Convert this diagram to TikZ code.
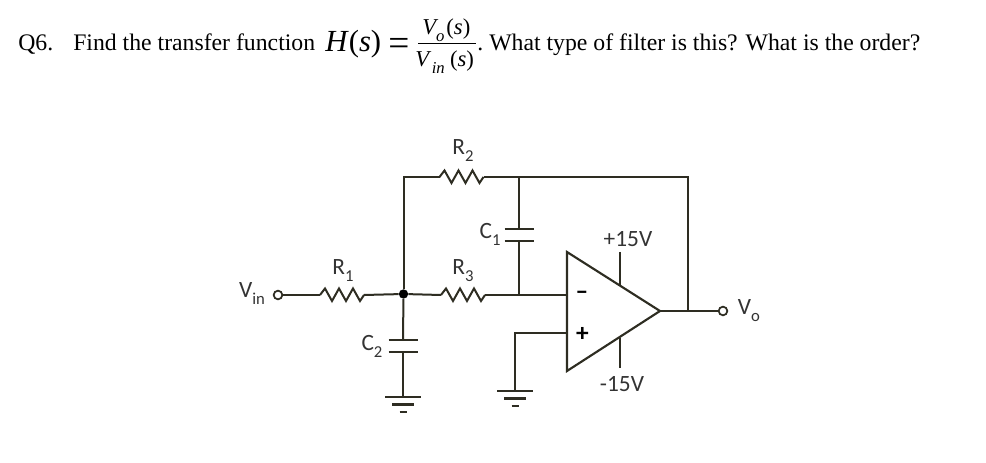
\documentclass[tikz,border=0pt]{standalone}
\usepackage{amsmath}
\usepackage{fontspec}
\usepackage{tikz}
\usetikzlibrary{positioning}
\setmainfont{Liberation Serif}
\newfontfamily\labelfont{Carlito}
\definecolor{wirecolor}{HTML}{2E2D22}
\tikzset{
  wire/.style={draw=wirecolor, line width=1.5pt, line join=miter},
  plate/.style={draw=wirecolor, line width=1.6pt},
  terminal/.style={circle, draw=wirecolor, fill=white, line width=1.3pt, inner sep=0pt, minimum size=6.5pt},
  junction/.style={circle, fill=black, inner sep=0pt, minimum size=7pt},
  lbl/.style={font=\labelfont\fontsize{17.5}{19}\selectfont, text=black!80, inner sep=0pt},
  signlbl/.style={font=\labelfont\bfseries\fontsize{19}{20}\selectfont, inner sep=0pt},
  question/.style={font=\fontsize{17.8}{20}\selectfont, inner sep=0pt, anchor=base west},
  bigmath/.style={font=\fontsize{23}{26}\selectfont, inner sep=0pt, anchor=base west},
  fracpart/.style={font=\fontsize{17}{20}\selectfont, inner sep=0pt, anchor=base west}
}
\newcommand\lsub[1]{\raisebox{-0.3em}{\fontsize{12.5}{13}\selectfont #1}}
\newcommand\resistor[3]{
  \begin{scope}[shift={(#1,#2)}]
      \coordinate (#3l) at (-22,0);
      \coordinate (#3r) at (22,0);
      \draw[wire] (#3l) -- (-17,-6.5) -- (-10,6) -- (-3,-6.5) -- (4,6) -- (11,-6.5) -- (18,6) -- (#3r);
  \end{scope}
}
\newcommand\capacitor[3]{
  \begin{scope}[shift={(#1,#2)}]
      \coordinate (#3t) at (0,-6);
      \coordinate (#3b) at (0,6);
      \draw[plate] (-14.5,-6) -- (14.5,-6);
      \draw[plate] (-14.5,6) -- (14.5,6);
  \end{scope}
}
\newcommand\earth[3]{
  \begin{scope}[shift={(#1,#2)}]
      \coordinate (#3) at (0,0);
      \draw[plate] (-18,0) -- (18,0);
      \draw[plate] (-11,7.5) -- (11,7.5);
      \draw[plate] (-3.5,15) -- (3.5,15);
  \end{scope}
}
\begin{document}
\begin{tikzpicture}[x=0.75pt, y=-0.75pt]
    \useasboundingbox (0,0) rectangle (986,463);

    % question line
    \node[question] (qnum) at (18,51) {Q6.};
    \node[question] (qtext) at (73,51) {Find the transfer function};
    \node[bigmath] (hs) at (325,52) {\textit{H}(\textit{s})};
    \node[bigmath, font=\fontsize{28}{30}\selectfont] (eq) at (388,56) {=};
    \node[fracpart] (num) at (422,35) {\textit{V\lsub{o}}\hspace{1.5pt}(\textit{s})};
    \node[fracpart] (den) at (415,67) {\textit{V\hspace{2pt}\lsub{in}}\hspace{4pt}(\textit{s})};
    \coordinate (barl) at (418,43.5);
    \coordinate (barr) at (476,43.5);
    \draw[line width=1.1pt] (barl) -- (barr);
    \node[question] (dot) at (477,51) {.};
    \node[question] (qrest) at (489,51) {What type of filter is this? What is the order?};

    % input side
    \node[terminal] (vin) at (278,295) {};
    \node[lbl] (vinlbl) at (252,294) {V\lsub{in}};
    \resistor{342}{295}{r1}
    \node[lbl] (r1lbl) at (343,271) {R\lsub{1}};
    \node[junction] (mid) at (403.5,294) {};
    \resistor{463}{295}{r3}
    \node[lbl] (r3lbl) at (463,271) {R\lsub{3}};
    \resistor{461.5}{177}{r2}
    \node[lbl] (r2lbl) at (463,151) {R\lsub{2}};
    \capacitor{519}{235}{c1}
    \node[lbl] (c1lbl) at (490,234) {C\lsub{1}};
    \capacitor{403}{346}{c2}
    \node[lbl] (c2lbl) at (372,346) {C\lsub{2}};
    \earth{403}{397}{gnda}
    \earth{515}{391}{gndb}

    % op amp
    \coordinate (minus) at (567,295);
    \coordinate (plus) at (567,333);
    \coordinate (tip) at (660,311);
    \draw[wire, line width=1.6pt] (567,252) -- (tip) -- (567,371) -- cycle;
    \node[signlbl] (minuslbl) at (582,295) {–};
    \node[signlbl] (pluslbl) at (582.5,334) {+};
    \coordinate (vpos) at (620,252);
    \coordinate (vposin) at (620,285);
    \coordinate (vneg) at (620,368);
    \coordinate (vnegin) at (620,338);
    \draw[wire] (vpos) -- (vposin);
    \draw[wire] (vneg) -- (vnegin);
    \node[lbl] (vposlbl) at (628,239) {+15V};
    \node[lbl] (vneglbl) at (622,384) {-15V};
    \node[terminal] (vo) at (723,311) {};
    \node[lbl] (volbl) at (749,311) {V\lsub{o}};

    % wires
    \draw[wire] (vin) -- (r1l);
    \draw[wire] (r1r) -- (mid);
    \draw[wire] (mid) -- (r3l);
    \draw[wire] (mid) |- (r2l);
    \draw[wire] (mid) -- (c2t);
    \draw[wire] (c2b) -- (gnda);
    \draw[wire] (r3r) -- (minus);
    \draw[wire] (c1b) -- (519,295);
    \draw[wire] (c1t) -- (519,177);
    \draw[wire] (r2r) -| (688,311);
    \draw[wire] (tip) -- (vo);
    \draw[wire] (plus) -| (gndb);
  \end{tikzpicture}
\end{document}
